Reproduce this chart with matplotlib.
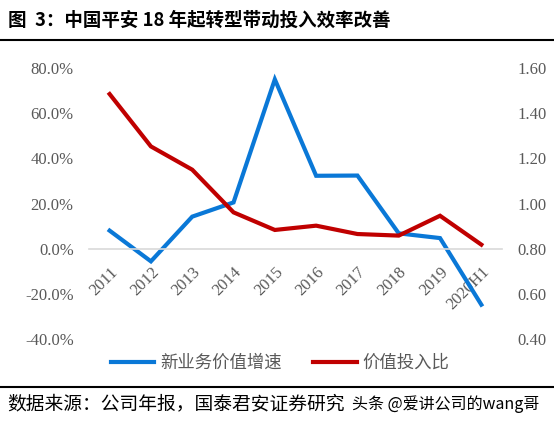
import matplotlib
matplotlib.use("Agg")
import matplotlib.pyplot as plt
from matplotlib.ticker import FuncFormatter
from matplotlib.lines import Line2D

plt.rcParams['font.family'] = ['Noto Sans CJK SC', 'DejaVu Sans']

years = ['2011', '2012', '2013', '2014', '2015', '2016', '2017', '2018', '2019', '2020H1']
nbv_growth = [8.0, -5.6, 14.2, 20.5, 75.0, 32.3, 32.4, 6.8, 4.7, -24.8]
value_ratio = [1.485, 1.253, 1.15, 0.961, 0.883, 0.902, 0.865, 0.858, 0.946, 0.818]

blue = '#0a78d7'
red = '#c00000'
gray = '#595959'

fig = plt.figure(figsize=(5.54, 4.23), dpi=100)
ax = fig.add_axes([0.1606, 0.1986, 0.7455, 0.6404])
ax2 = ax.twinx()

x = range(len(years))
ax.plot(x, nbv_growth, color=blue, lw=3, solid_joinstyle='miter')
ax2.plot(x, value_ratio, color=red, lw=3, solid_joinstyle='miter')

ax.set_xlim(-0.5, len(years) - 0.5)
ax.set_ylim(-40, 80)
ax.set_yticks(range(-40, 81, 20))
ax.yaxis.set_major_formatter(FuncFormatter(lambda v, p: f'{v:.1f}%'))
ax2.set_ylim(0.4, 1.6)
ax2.set_yticks([0.4, 0.6, 0.8, 1.0, 1.2, 1.4, 1.6])
ax2.yaxis.set_major_formatter(FuncFormatter(lambda v, p: f'{v:.2f}'))

for a in (ax, ax2):
    for s in ['top', 'left', 'right', 'bottom']:
        a.spines[s].set_visible(False)
    a.tick_params(length=0, labelsize=12, labelcolor=gray)
    for lab in a.get_yticklabels():
        lab.set_family('Liberation Serif')

ax.spines['bottom'].set_visible(True)
ax.spines['bottom'].set_position(('data', 0))
ax.spines['bottom'].set_color('#d9d9d9')
ax.spines['bottom'].set_linewidth(1.2)
ax.set_xticks(list(x))
ax.set_xticklabels(years, rotation=45, ha='right', va='top', rotation_mode='anchor',
                   family='Liberation Serif', fontsize=12, color=gray)
ax.tick_params(axis='x', pad=11)
ax.tick_params(axis='y', pad=11)
ax2.tick_params(axis='y', pad=11)

handles = [Line2D([0], [0], color=blue, lw=3), Line2D([0], [0], color=red, lw=3)]
fig.legend(handles, ['新业务价值增速', '价值投入比'], loc='center',
           bbox_to_anchor=(0.506, 1 - 363 / 423), ncol=2, frameon=False,
           fontsize=12.5, handlelength=2.5, columnspacing=1.8, handletextpad=0.35,
           labelcolor=gray)

fig.text(0.014, 1 - 20 / 423, '图  3：中国平安 18 年起转型带动投入效率改善',
         fontsize=13.3, weight='bold', va='center', ha='left', color='black')
fig.add_artist(Line2D([0, 1], [1 - 40 / 423, 1 - 40 / 423], color='black', lw=1.5))
fig.add_artist(Line2D([0, 1], [1 - 387 / 423, 1 - 387 / 423], color='black', lw=1.5))
fig.text(0.013, 1 - 404 / 423, '数据来源：公司年报，国泰君安证券研究',
         fontsize=13.5, va='center', ha='left', color='black')
fig.text(0.635, 1 - 404 / 423, '头条 @爱讲公司的wang哥',
         fontsize=11.5, va='center', ha='left', color='black')

fig.savefig('out.png', dpi=100)
